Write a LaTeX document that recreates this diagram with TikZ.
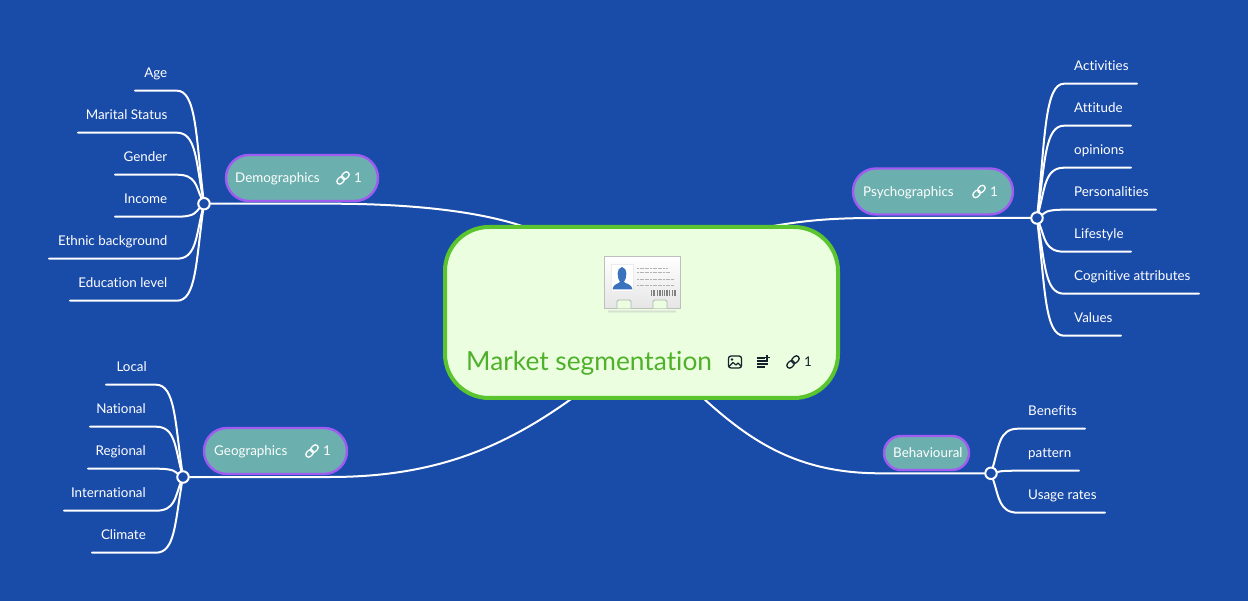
\documentclass[tikz,border=0pt]{standalone}
\usepackage{fontspec}
\setmainfont[Ligatures=NoCommon]{Lato}
\usetikzlibrary{calc,shapes.geometric}
\definecolor{bgblue}{HTML}{194BA9}
\definecolor{pillfill}{HTML}{6BB0AE}
\definecolor{pillline}{HTML}{A05CF0}
\definecolor{ctrfill}{HTML}{EBFFE0}
\definecolor{ctrline}{HTML}{5AC52E}
\definecolor{ctrtext}{HTML}{4FB02A}
\definecolor{icondark}{HTML}{15202B}
\definecolor{cardblue}{HTML}{3A72BE}
\pgfdeclarelayer{ground}
\pgfdeclarelayer{wires}
\pgfsetlayers{ground,wires,main}
\tikzset{
  x=1pt,y=-1pt,
  wire/.style={draw=white,line width=2pt,line cap=round},
  hub/.style={circle,draw=white,fill=bgblue,line width=2pt,minimum size=11.5pt,inner sep=0pt},
  pill/.style={rectangle,draw=pillline,fill=pillfill,line width=2.4pt,inner sep=0pt,rounded corners=17pt},
  lab/.style={text=white,font=\fontsize{13.4}{16}\selectfont,inner sep=0pt,text height=14.5pt,text depth=3.2pt},
  lableft/.style={lab,anchor=west},
  labright/.style={lab,anchor=east},
  ctrbox/.style={rectangle,draw=ctrline,fill=ctrfill,line width=4pt,rounded corners=44pt,minimum width=393pt,minimum height=171pt,inner sep=0pt},
  linkicon/.pic={
    \draw[line width=1.3pt,rotate=45,rounded corners=2.8pt,pic actions] (-7.6,-2.8) rectangle (0.9,2.8);
    \draw[line width=1.3pt,rotate=45,rounded corners=2.8pt,pic actions] (-0.9,-2.8) rectangle (7.6,2.8);
  },
}
\newcommand{\twig}[5]{% hub, side sign, leaf name, y, far x ; draws from hub to (leaf) and on to its end
  \coordinate (#3end) at (#5,#4);
  \draw[wire] let \p1=(#1),\p2=(#3end),\n1={#2*8pt} in
    (#1) .. controls ({\x1+\n1},{\y1+0.6*(\y2-\y1)}) and ({\x1+\n1},\y2) .. ({\x1+#2*27pt},\y2) -- (#3end);
}
\begin{document}
\begin{tikzpicture}
\begin{pgfonlayer}{ground}
\useasboundingbox[fill=bgblue] (0,0) rectangle (1248,601);
\end{pgfonlayer}

% centre
\node[ctrbox] (ctr) at (641.5,312.5) {};
\node[anchor=west,inner sep=0pt,text=ctrtext,font=\fontsize{26.3}{30}\selectfont,text height=25pt,text depth=6pt] (title) at (466,361) {Market segmentation};

% card
\begin{scope}
  \shade[top color=ctrfill,bottom color=ctrfill,middle color=black!22,opacity=.55] (608,309) rectangle (676,313);
  \shade[top color=white,bottom color=black!10,draw=black!25,line width=.7pt] (604,256.5) rectangle (680,308.5);
  \fill[white,draw=black!8,line width=.4pt] (611,264) rectangle (633,291);
  \fill[cardblue] (612.5,289.5) .. controls (613,284) and (618,284) .. (620,282) .. controls (617,278) and (616,268) .. (622,267) .. controls (628,268) and (627,278) .. (624,282) .. controls (626,284) and (632,284) .. (632.5,289.5) -- cycle;
  \foreach \yy/\xa/\xb in {268/637/668,272/637/670,279/637/674,285/637/674}{
    \draw[black!30,line width=.7pt,dash pattern=on 2pt off .6pt] (\xa,\yy) -- (\xb,\yy);
  }
  \foreach \xx in {651,653,654.5,657,659,660.5,662,664,666,667.5,669.5,672,674,675.5}{
    \draw[black!50,line width=.6pt] (\xx,290.5) -- (\xx,296);
  }
  \draw[black!30,fill=ctrfill,line width=.9pt,rounded corners=1.5pt] (617,308.5) -- (617,300) -- (631,300) -- (631,308.5);
  \draw[black!30,fill=ctrfill,line width=.9pt,rounded corners=1.5pt] (653,308.5) -- (653,300) -- (667,300) -- (667,308.5);
\end{scope}

% centre icons
\draw[icondark,line width=1.3pt,rounded corners=2.5pt] (728.5,356) rectangle (741.5,368);
\fill[icondark] (732,359.5) circle (1.3pt);
\draw[icondark,line width=1.2pt,line join=round] (729,366.5) -- (733,362.5) -- (736,365) -- (738,363) -- (741,366);
\draw[icondark,line width=1.2pt] (757,358) -- (765,358) (757,361) -- (768,361) (757,364) -- (768,364) (757,367) -- (765,367) (767,355) -- (767,360) (764.5,357.5) -- (769.5,357.5);
\pic[draw=icondark] at (793,362) {linkicon};
\node[lab,text=icondark,anchor=center] (ctrn) at (808,360.5) {1};

% topic pills
\node[pill,minimum width=152pt,minimum height=46pt,rounded corners=23pt] (dempill) at (302,178) {};
\node[lableft] (demlab) at (235,177) {Demographics};
\pic[draw=white] at (343,178) {linkicon};
\node[lab,anchor=center] (demn) at (358,177) {1};

\node[pill,minimum width=160pt,minimum height=46pt,rounded corners=23pt] (psypill) at (933,191.5) {};
\node[lableft] (psylab) at (863,191) {Psychographics};
\pic[draw=white] at (979,191.5) {linkicon};
\node[lab,anchor=center] (psyn) at (994,191) {1};

\node[pill,minimum width=143pt,minimum height=46pt,rounded corners=23pt] (geopill) at (275.5,451) {};
\node[lableft] (geolab) at (214,450) {Geographics};
\pic[draw=white] at (312,451) {linkicon};
\node[lab,anchor=center] (geon) at (327,450) {1};

\node[pill,minimum width=85pt,minimum height=34pt] (behpill) at (926.5,453) {};
\node[lableft] (behlab) at (893,452) {Behavioural};

% hubs
\node[hub] (hdem) at (204,203.7) {};
\node[hub] (hpsy) at (1037,218) {};
\node[hub] (hgeo) at (183,477) {};
\node[hub] (hbeh) at (991,473.3) {};

% leaves
\node[labright] (age) at (167.5,72) {Age};
\node[labright] (marital) at (167.5,114) {Marital Status};
\node[labright] (gender) at (167.5,156) {Gender};
\node[labright] (income) at (167.5,198) {Income};
\node[labright] (ethnic) at (167.5,240) {Ethnic background};
\node[labright] (educ) at (167.5,282) {Education level};

\node[labright] (local) at (147,366) {Local};
\node[labright] (national) at (146,408) {National};
\node[labright] (regional) at (146,450) {Regional};
\node[labright] (internat) at (146,492) {International};
\node[labright] (climate) at (146,534) {Climate};

\node[lableft] (activ) at (1074,65) {Activities};
\node[lableft] (attit) at (1074,107) {Attitude};
\node[lableft] (opin) at (1074,149) {opinions};
\node[lableft] (person) at (1074,191) {Personalities};
\node[lableft] (life) at (1074,233) {Lifestyle};
\node[lableft] (cogn) at (1074,275) {Cognitive attributes};
\node[lableft] (values) at (1074,317) {Values};

\node[lableft] (benef) at (1028,410) {Benefits};
\node[lableft] (patt) at (1028,452) {pattern};
\node[lableft] (usage) at (1028,494) {Usage rates};

\begin{pgfonlayer}{wires}
  % main branches
  \draw[wire] (hdem) -- (330,203.7) .. controls (420,203.7) and (490,213) .. ($(ctr.north west)+(90,5)$);
  \draw[wire] (hpsy) -- (880,218) .. controls (840,218) and (810,219) .. ($(ctr.north east)+(-78,3)$);
  \draw[wire] (hgeo) -- (330,477) .. controls (440,477) and (512,445) .. ($(ctr.south west)+(147,-15)$);
  \draw[wire] (hbeh) -- (880,473.3) .. controls (790,473.3) and (742,435) .. ($(ctr.south east)+(-151,-15)$);
  % twigs
  \twig{hdem}{-1}{age}{90.7}{135}
  \twig{hdem}{-1}{marital}{132.7}{78}
  \twig{hdem}{-1}{gender}{174.7}{115}
  \twig{hdem}{-1}{income}{216.7}{115}
  \twig{hdem}{-1}{ethnic}{258.7}{49}
  \twig{hdem}{-1}{educ}{300.7}{70}

  \twig{hgeo}{-1}{local}{384.7}{106}
  \twig{hgeo}{-1}{national}{426.7}{90}
  \twig{hgeo}{-1}{regional}{468.7}{88}
  \twig{hgeo}{-1}{internat}{510.7}{64}
  \twig{hgeo}{-1}{climate}{552.7}{92}

  \twig{hpsy}{1}{activ}{83.7}{1137}
  \twig{hpsy}{1}{attit}{125.7}{1131}
  \twig{hpsy}{1}{opin}{167.7}{1131}
  \twig{hpsy}{1}{person}{209.7}{1156}
  \twig{hpsy}{1}{life}{251.7}{1131}
  \twig{hpsy}{1}{cogn}{293.7}{1199}
  \twig{hpsy}{1}{values}{335.7}{1121}

  \twig{hbeh}{1}{benef}{428.7}{1085}
  \twig{hbeh}{1}{patt}{470.7}{1079}
  \twig{hbeh}{1}{usage}{512.7}{1105}
\end{pgfonlayer}
\end{tikzpicture}
\end{document}
